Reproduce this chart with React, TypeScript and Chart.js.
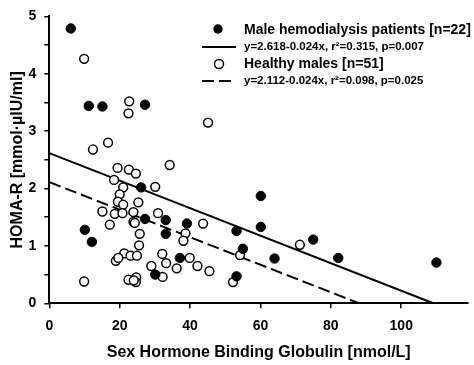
import React, { useEffect, useRef } from "react";
import { Chart, registerables } from "chart.js";

Chart.register(...registerables);

// Male hemodialysis patients [n=22]
const maleSHBG = [6.1, 11.2, 15.1, 27.2, 26.1, 27.2, 33.1, 39.1, 10.1, 12.1, 33.1, 37.1, 30.1, 60.1, 53.2, 60.1, 75.0, 55.0, 64.0, 82.1, 53.2, 110.0];
const maleHOMA = [4.79, 3.44, 3.43, 3.46, 2.02, 1.47, 1.45, 1.39, 1.28, 1.07, 1.21, 0.79, 0.5, 1.87, 1.26, 1.33, 1.11, 0.95, 0.78, 0.79, 0.47, 0.71];

// Healthy males [n=51]
const healthySHBG = [9.9, 22.7, 22.5, 12.4, 16.7, 34.2, 19.4, 22.6, 24.6, 18.4, 45.1, 21.0, 30.1, 20.0, 19.5, 21.0, 25.3, 15.1, 18.6, 20.8, 23.9, 23.9, 24.3, 30.9, 17.2, 25.7, 38.7, 38.1, 25.5, 21.3, 23.1, 24.9, 32.1, 18.9, 19.6, 33.2, 39.9, 42.1, 29.0, 36.2, 32.2, 9.9, 22.5, 24.7, 24.6, 43.7, 71.2, 54.2, 45.5, 52.2, 24.0];
const healthyHOMA = [4.26, 3.52, 3.31, 2.68, 2.8, 2.41, 2.36, 2.33, 2.26, 2.15, 3.15, 2.02, 2.03, 1.9, 1.77, 1.72, 1.76, 1.6, 1.56, 1.57, 1.59, 1.42, 1.4, 1.57, 1.37, 1.21, 1.22, 1.09, 1.01, 0.87, 0.83, 0.83, 0.86, 0.74, 0.79, 0.7, 0.79, 0.65, 0.65, 0.61, 0.46, 0.38, 0.41, 0.45, 0.37, 1.39, 1.02, 0.84, 0.56, 0.37, 0.4];

// Regression line endpoints (from the printed equations)
const maleFitX = [0, 109.1];
const maleFitY = [2.618, 0];
const healthyFitX = [0, 88.0];
const healthyFitY = [2.112, 0];

const legendLabels = [
  "Male hemodialysis patients [n=22]",
  "y=2.618-0.024x, r\u00B2=0.315, p=0.007",
  "Healthy males [n=51]",
  "y=2.112-0.024x, r\u00B2=0.098, p=0.025",
];

const xTitle = "Sex Hormone Binding Globulin [nmol/L]";
const yTitle = "HOMA-R [mmol\u00B7\u00B5IU/ml]";

const FONT = "'Liberation Sans', Arial, sans-serif";

const zip = (xs: number[], ys: number[]) => xs.map((x, i) => ({ x, y: ys[i] }));

const legendPlugin = {
  id: "customLegend",
  afterDraw(chart: any) {
    const ctx = chart.ctx as CanvasRenderingContext2D;
    ctx.save();
    // markers
    ctx.fillStyle = "#000";
    ctx.beginPath();
    ctx.arc(218, 29, 4.7, 0, Math.PI * 2);
    ctx.fill();
    ctx.strokeStyle = "#000";
    ctx.lineWidth = 2;
    ctx.beginPath();
    ctx.moveTo(202, 47);
    ctx.lineTo(236, 47);
    ctx.stroke();
    ctx.lineWidth = 1.5;
    ctx.fillStyle = "#fff";
    ctx.beginPath();
    ctx.arc(219, 64, 4.5, 0, Math.PI * 2);
    ctx.fill();
    ctx.stroke();
    ctx.lineWidth = 2;
    ctx.setLineDash([12, 5]);
    ctx.beginPath();
    ctx.moveTo(202, 81);
    ctx.lineTo(231, 81);
    ctx.stroke();
    ctx.setLineDash([]);
    // text
    ctx.fillStyle = "#000";
    ctx.textBaseline = "middle";
    ctx.textAlign = "left";
    ctx.font = `bold 14px ${FONT}`;
    ctx.fillText(legendLabels[0], 244, 30);
    ctx.fillText(legendLabels[2], 244, 64);
    ctx.font = `bold 11.5px ${FONT}`;
    ctx.fillText(legendLabels[1], 244, 47);
    ctx.fillText(legendLabels[3], 244, 81);
    ctx.restore();
  },
};

export default function App() {
  const ref = useRef<HTMLCanvasElement>(null);
  useEffect(() => {
    if (!ref.current) return;
    const chart = new Chart(ref.current, {
      type: "scatter",
      data: {
        datasets: [
          {
            label: "Male hemodialysis patients [n=22]",
            data: zip(maleSHBG, maleHOMA),
            backgroundColor: "#000",
            borderColor: "#000",
            borderWidth: 1,
            pointRadius: 4.7,
          },
          {
            label: "Healthy males [n=51]",
            data: zip(healthySHBG, healthyHOMA),
            backgroundColor: "#fff",
            borderColor: "#000",
            borderWidth: 1.5,
            pointRadius: 4.4,
          },
          {
            type: "line",
            label: "fit male",
            data: zip(maleFitX, maleFitY),
            borderColor: "#000",
            borderWidth: 2,
            pointRadius: 0,
            fill: false,
          } as any,
          {
            type: "line",
            label: "fit healthy",
            data: zip(healthyFitX, healthyFitY),
            borderColor: "#000",
            borderWidth: 2,
            borderDash: [12, 5],
            pointRadius: 0,
            fill: false,
          } as any,
        ],
      },
      options: {
        animation: false,
        responsive: false,
        layout: { padding: { top: 9, right: 2.2, left: 0, bottom: 0 } },
        plugins: { legend: { display: false }, tooltip: { enabled: false } },
        scales: {
          x: {
            type: "linear",
            min: 0,
            max: 119,
            afterFit: (s: any) => {
              s.height = 61.7;
            },
            border: { display: true, color: "#000", width: 2 },
            grid: { drawOnChartArea: false, drawTicks: true, tickLength: 5, color: "#000", lineWidth: 1.5 },
            ticks: {
              stepSize: 20,
              includeBounds: false,
              color: "#000",
              padding: 9,
              maxRotation: 0,
              font: { family: FONT, size: 14, weight: "bold" },
            },
            title: {
              display: true,
              text: xTitle,
              color: "#000",
              padding: { top: 0, bottom: 3 },
              font: { family: FONT, size: 16, weight: "bold" },
            },
          },
          y: {
            type: "linear",
            min: 0,
            max: 5,
            afterFit: (s: any) => {
              s.width = 49.3;
            },
            border: { display: true, color: "#000", width: 2 },
            grid: { drawOnChartArea: false, drawTicks: true, tickLength: 5, color: "#000", lineWidth: 1.5 },
            ticks: {
              stepSize: 0.5,
              autoSkip: false,
              color: "#000",
              padding: 8,
              font: { family: FONT, size: 14, weight: "bold" },
              callback: (v: any) => (Number.isInteger(v) ? String(v) : ""),
            },
            title: {
              display: true,
              text: yTitle,
              color: "#000",
              padding: { top: 8, bottom: 0 },
              font: { family: FONT, size: 16, weight: "bold" },
            },
          },
        },
      },
      plugins: [legendPlugin],
    } as any);
    return () => chart.destroy();
  }, []);
  return (
    <div style={{ position: "fixed", left: 0, top: 0, width: 474, height: 365, background: "#fff" }}>
      <canvas ref={ref} width={474} height={365} style={{ display: "block" }} />
    </div>
  );
}
